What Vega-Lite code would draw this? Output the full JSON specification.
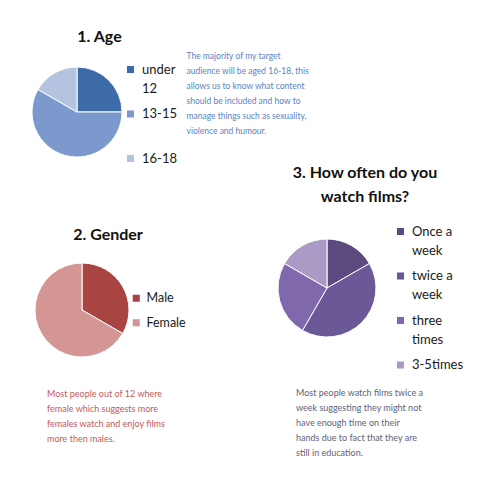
{
  "$schema": "https://vega.github.io/schema/vega-lite/v6.json",
  "background": "white",
  "padding": {"left": 30, "top": 29, "right": 0, "bottom": 0},
  "config": {
    "view": {"stroke": null},
    "font": "Lato",
    "title": {"font": "Lato", "color": "#111111", "fontSize": 16, "fontWeight": "bold"},
    "text": {"font": "Lato", "fontSize": 9, "align": "left", "baseline": "middle"},
    "style": {"guide-label": {"lineHeight": 19}},
    "legend": {
      "labelFont": "Lato",
      "labelFontSize": 13,
      "labelColor": "#1a1a1a",
      "symbolType": "square",
      "symbolSize": 50,
      "symbolStrokeWidth": 0,
      "gridAlign": "all",
      "rowPadding": 11.5,
      "labelOffset": 5,
      "padding": 0
    }
  },
  "datasets": {
    "age": [
      {"group": "under 12", "people": 3, "order": 1},
      {"group": "13-15", "people": 7, "order": 2},
      {"group": "16-18", "people": 2, "order": 3}
    ],
    "gender": [
      {"group": "Male", "people": 4, "order": 1},
      {"group": "Female", "people": 8, "order": 2}
    ],
    "films": [
      {"group": "Once a week", "people": 2, "order": 1},
      {"group": "twice a week", "people": 5, "order": 2},
      {"group": "three times", "people": 3, "order": 3},
      {"group": "3-5times", "people": 2, "order": 4}
    ],
    "age_note": [
      {"line": 1, "text": "The majority of my target"},
      {"line": 2, "text": "audience will be aged 16-18, this"},
      {"line": 3, "text": "allows us to know what content"},
      {"line": 4, "text": "should be included and how to"},
      {"line": 5, "text": "manage things such as sexuality,"},
      {"line": 6, "text": "violence and humour."}
    ],
    "gender_note": [
      {"line": 1, "text": "Most people out of 12 where"},
      {"line": 2, "text": "female which suggests more"},
      {"line": 3, "text": "females watch and enjoy films"},
      {"line": 4, "text": "more then males."}
    ],
    "films_note": [
      {"line": 1, "text": "Most people watch films twice a"},
      {"line": 2, "text": "week suggesting they might not"},
      {"line": 3, "text": "have enough time on their"},
      {"line": 4, "text": "hands due to fact that they are"},
      {"line": 5, "text": "still in education."}
    ]
  },
  "hconcat": [
    {
      "vconcat": [
        {
          "data": {"name": "age"},
          "width": 90,
          "height": 98,
          "title": {"text": "1. Age", "frame": "bounds", "offset": 18, "dx": -4},
          "mark": {"type": "arc", "radius": 45, "stroke": "white", "strokeWidth": 1},
          "encoding": {
            "theta": {"field": "people", "type": "quantitative"},
            "order": {"field": "order", "type": "quantitative"},
            "color": {
              "field": "group",
              "type": "nominal",
              "scale": {"domain": ["under 12", "13-15", "16-18"], "range": ["#3d6aa8", "#7b99cc", "#b4c3df"]},
              "legend": {
                "title": null,
                "orient": "right",
                "offset": 2,
                "labelExpr": "datum.label == 'under 12' ? ['under', '12'] : datum.label",
                "encode": {"labels": {"enter": {"lineHeight": {"value": 19}}, "update": {"lineHeight": {"value": 19}}}}
              }
            }
          }
        },
        {
          "vconcat": [
            {
              "data": {"name": "gender"},
              "width": 100,
              "height": 94,
              "title": {"text": "2. Gender", "frame": "bounds", "offset": 18, "dx": -1},
              "mark": {"type": "arc", "radius": 47, "stroke": "white", "strokeWidth": 1},
              "encoding": {
                "theta": {"field": "people", "type": "quantitative"},
                "order": {"field": "order", "type": "quantitative"},
                "color": {
                  "field": "group",
                  "type": "nominal",
                  "scale": {"domain": ["Male", "Female"], "range": ["#a84543", "#d49695"]},
                  "legend": {
                    "title": " ",
                    "titleFontSize": 10,
                    "titlePadding": 19,
                    "orient": "right",
                    "offset": -2,
                    "labelOffset": 4,
                    "labelFontSize": 12.5
                  }
                }
              }
            },
            {
              "data": {"name": "gender_note"},
              "width": 30,
              "height": 60,
              "mark": {"type": "text", "color": "#c4595a"},
              "encoding": {
                "y": {"field": "line", "type": "ordinal", "axis": null, "scale": {"padding": 0.5}},
                "text": {"field": "text"}
              }
            }
          ],
          "spacing": 27,
          "resolve": {"scale": {"color": "independent", "theta": "independent"}, "legend": {"color": "independent"}}
        }
      ],
      "spacing": 61,
      "resolve": {"scale": {"color": "independent", "theta": "independent"}, "legend": {"color": "independent"}}
    },
    {
      "vconcat": [
        {
          "data": {"name": "age_note"},
          "width": 1,
          "height": 68,
          "mark": {"type": "text", "color": "#5b83c3", "fontSize": 8.5},
          "encoding": {
            "y": {"field": "line", "type": "quantitative", "axis": null, "scale": {"domain": [1.467, 6], "reverse": true, "zero": false, "nice": false}},
            "text": {"field": "text"}
          }
        },
        {
          "vconcat": [
            {
              "data": {"name": "films"},
              "width": 282,
              "height": 126,
              "title": {
                "text": "3. How often do you",
                "subtitle": "watch films?",
                "subtitleFont": "Lato",
                "subtitleFontSize": 16,
                "subtitleFontWeight": "bold",
                "subtitleColor": "#111111",
                "subtitlePadding": 8,
                "anchor": "middle",
                "dx": 38,
                "offset": 20
              },
              "mark": {"type": "arc", "radius": 49, "stroke": "white", "strokeWidth": 1},
              "encoding": {
                "theta": {"field": "people", "type": "quantitative"},
                "order": {"field": "order", "type": "quantitative"},
                "color": {
                  "field": "group",
                  "type": "nominal",
                  "scale": {"domain": ["Once a week", "twice a week", "three times", "3-5times"], "range": ["#5b4a7e", "#6a5897", "#7f68ab", "#a99bc5"]},
                  "legend": {
                    "title": null,
                    "orient": "right",
                    "offset": -74,
                    "labelExpr": "datum.label == 'Once a week' ? ['Once a', 'week'] : datum.label == 'twice a week' ? ['twice a', 'week'] : datum.label == 'three times' ? ['three', 'times'] : datum.label",
                    "encode": {"labels": {"enter": {"lineHeight": {"value": 19}}, "update": {"lineHeight": {"value": 19}}}}
                  }
                }
              }
            },
            {
              "data": {"name": "films_note"},
              "width": 220,
              "height": 75,
              "mark": {"type": "text", "color": "#62617a"},
              "encoding": {
                "y": {"field": "line", "type": "ordinal", "axis": null, "scale": {"padding": 0.5}},
                "text": {"field": "text"}
              }
            }
          ],
          "spacing": 13.5,
          "resolve": {"scale": {"color": "independent", "theta": "independent"}, "legend": {"color": "independent"}}
        }
      ],
      "spacing": 29,
      "resolve": {"scale": {"color": "independent", "theta": "independent"}, "legend": {"color": "independent"}}
    }
  ],
  "spacing": 0,
  "resolve": {"scale": {"color": "independent", "theta": "independent"}, "legend": {"color": "independent"}}
}
